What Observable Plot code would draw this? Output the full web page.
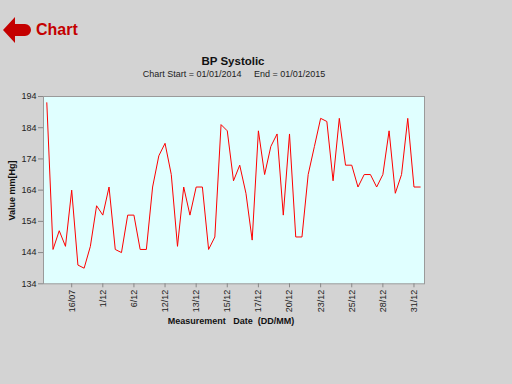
<!DOCTYPE html>
<html>
<head>
<meta charset="utf-8">
<script src="https://cdn.jsdelivr.net/npm/d3@7"></script>
<script src="https://cdn.jsdelivr.net/npm/@observablehq/plot@0.6"></script>
<style>
  html, body { margin: 0; padding: 0; }
  body { width: 512px; height: 384px; background: #d3d3d3; overflow: hidden;
         font-family: "Liberation Sans", Arial, sans-serif; }
  #wrap { position: relative; width: 512px; height: 384px; }
  #wrap svg.plot { position: absolute; left: 0; top: 0; }
  .abs { position: absolute; white-space: pre; }
  #back { left: 36px; top: 21.5px; font-size: 16px; line-height: 16px; font-weight: bold; color: #c40000; }
  #arrow { left: 2px; top: 16px; }
  #title { left: 133px; width: 200px; top: 56.3px; text-align: center; font-size: 11.5px; line-height: 11.5px; font-weight: bold; color: #111; }
  #subtitle { left: 84px; width: 300px; top: 69.9px; text-align: center; font-size: 9px; line-height: 9px; color: #222; }
  #xlabel { left: 131px; width: 200px; top: 316.7px; text-align: center; font-size: 9px; line-height: 9px; font-weight: bold; color: #111; }
  #ylabel { left: -38.3px; width: 100px; top: 185.5px; height: 9px; text-align: center; font-size: 9px; line-height: 9px; font-weight: bold; color: #111; transform: rotate(-90deg); }
</style>
</head>
<body>
<div id="wrap">
  <svg id="arrow" class="abs" width="30" height="28" viewBox="0 0 30 28">
    <path d="M1 14 L13 1 L13 8 L23 8 A6 6 0 0 1 23 20 L13 20 L13 27 Z" fill="#c40000"/>
  </svg>
  <div id="back" class="abs">Chart</div>
  <div id="title" class="abs">BP Systolic</div>
  <div id="subtitle" class="abs">Chart Start = 01/01/2014     End = 01/01/2015</div>
  <div id="xlabel" class="abs">Measurement   Date  (DD/MM)</div>
  <div id="ylabel" class="abs">Value mm[Hg]</div>
</div>
<script>
const values = [192, 145, 151, 146, 164, 140, 139, 146, 159, 156,
                165, 145, 144, 156, 156, 145, 145, 165, 175, 179,
                169, 146, 165, 156, 165, 165, 145, 149, 185, 183,
                167, 172, 163, 148, 183, 169, 178, 182, 156, 182,
                149, 149, 169, 178, 187, 186, 167, 187, 172, 172,
                165, 169, 169, 165, 169, 183, 163, 169, 187, 165,
                165];
const tickIndex = [4, 9, 14, 19, 24, 29, 34, 39, 44, 49, 54, 59];
const tickLabels = ["16/07", "1/12", "6/12", "12/12", "13/12", "15/12",
                    "17/12", "20/12", "23/12", "25/12", "28/12", "31/12"];
const yTicks = [134, 144, 154, 164, 174, 184, 194];

const chart = Plot.plot({
  width: 512,
  height: 384,
  marginTop: 96,
  marginBottom: 100.7,
  marginLeft: 43,
  marginRight: 88,
  x: {domain: [-0.53, 60.69]},
  y: {domain: [134, 194]},
  style: {background: "transparent", fontFamily: "'Liberation Sans', Arial, sans-serif", fontSize: "9px", overflow: "visible"},
  marks: [
    Plot.frame({fill: "#e0ffff", stroke: "#9a9a9a"}),
    Plot.axisY({ticks: yTicks, tickSize: 5, tickPadding: 2, label: null, stroke: "#888", fill: "#222"}),
    Plot.axisX({ticks: tickIndex, tickFormat: d => tickLabels[tickIndex.indexOf(d)], tickRotate: -90,
                tickSize: 4, tickPadding: 2, label: null, stroke: "#888", fill: "#222"}),
    Plot.line(values, {x: (d, i) => i, y: d => d, stroke: "#ff0000", strokeWidth: 1})
  ]
});
chart.classList.add("plot");
document.getElementById("wrap").prepend(chart);
</script>
</body>
</html>
